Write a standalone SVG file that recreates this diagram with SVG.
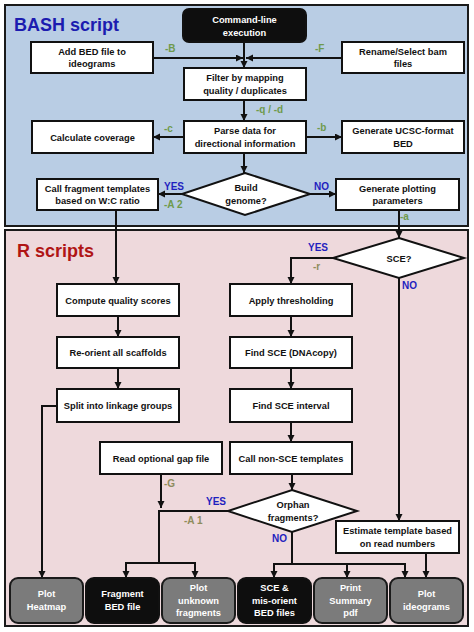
<svg xmlns="http://www.w3.org/2000/svg" width="474" height="632" viewBox="0 0 474 632">
<defs>
<marker id="ah" markerUnits="userSpaceOnUse" markerWidth="8" markerHeight="8" refX="7" refY="3.5" orient="auto">
<path d="M0,0 L7,3.5 L0,7 z" fill="#111"/>
</marker>
<style>
.box{fill:#fff;stroke:#111;stroke-width:2}
.blk{fill:#0e0e0e;stroke:#111;stroke-width:2}
.gry{fill:#7b7b7b;stroke:#1a1a1a;stroke-width:2}
text{font-family:"Liberation Sans",Arial,sans-serif;font-weight:bold}
.t{font-size:9.3px;fill:#111;text-anchor:middle}
.w{font-size:9.3px;fill:#fff;text-anchor:middle}
.yn{font-size:10px;fill:#1f1fbf}
.opt{font-size:10px;fill:#6f9a4c}
.optr{font-size:10px;fill:#8e8c5c}
.ln{fill:none;stroke:#111;stroke-width:2}
.ar{fill:none;stroke:#111;stroke-width:2;marker-end:url(#ah)}
</style>
</defs>
<rect x="0" y="0" width="474" height="632" fill="#fff"/>
<g id="bash-panel">
<rect x="5" y="5" width="463" height="221" fill="#b9cde4" stroke="#1a1a1a" stroke-width="2"/>
<text x="14" y="31" font-size="18" fill="#1c1cb0">BASH script</text>
</g>
<g id="r-panel">
<rect x="5" y="230" width="463" height="396" fill="#eed9dc" stroke="#1a1a1a" stroke-width="2"/>
<text x="17" y="257" font-size="18" fill="#b01515">R scripts</text>
</g>

<g id="connectors">
<path class="ar" d="M244,42 V68"/>
<path class="ar" d="M153,58 H243"/>
<path class="ar" d="M342,58 H246"/>
<path class="ar" d="M244,100 V121"/>
<path class="ar" d="M184,137 H153"/>
<path class="ar" d="M306,137 H342"/>
<path class="ar" d="M244,153 V173"/>
<path class="ar" d="M182,194 H158"/>
<path class="ar" d="M310,194 H336"/>
<path class="ar" d="M116,210 V284"/>
<path class="ar" d="M118,316 V337"/>
<path class="ar" d="M118,368 V389"/>
<path class="ar" d="M57,406 H42 V578"/>
<path class="ar" d="M399,210 V238"/>
<path class="ar" d="M333,258 H291 V284"/>
<path class="ar" d="M399,278 V521"/>
<path class="ar" d="M291,316 V337"/>
<path class="ar" d="M291,368 V389"/>
<path class="ar" d="M291,422 V442"/>
<path class="ar" d="M292,474 V490"/>
<path class="ar" d="M161,474 V508"/>
<path class="ln" d="M228,511 H159 V563"/>
<path class="ln" d="M125,563 H196"/>
<path class="ar" d="M126,563 V578"/>
<path class="ar" d="M195,563 V578"/>
<path class="ln" d="M292,532 V564"/>
<path class="ln" d="M273,564 H406"/>
<path class="ar" d="M274,564 V578"/>
<path class="ar" d="M347,564 V578"/>
<path class="ar" d="M405,564 V578"/>
<path class="ar" d="M426,553 V578"/>
</g>

<g id="labels">
<text class="opt" x="165" y="52">-B</text>
<text class="opt" x="315" y="52">-F</text>
<text class="opt" x="256" y="113">-q / -d</text>
<text class="opt" x="164" y="132">-c</text>
<text class="opt" x="317" y="131">-b</text>
<text class="yn" x="164" y="190">YES</text>
<text class="opt" x="164" y="208">-A 2</text>
<text class="yn" x="314" y="190">NO</text>
<text class="opt" x="400" y="220">-a</text>
<text class="yn" x="308" y="251">YES</text>
<text class="optr" x="313" y="270">-r</text>
<text class="yn" x="402" y="289">NO</text>
<text class="optr" x="164" y="487">-G</text>
<text class="yn" x="206" y="505">YES</text>
<text class="optr" x="184" y="524">-A 1</text>
<text class="yn" x="272" y="542">NO</text>
</g>

<g id="cmd">
<rect class="blk" x="183" y="9" width="123" height="33" rx="6"/>
<text class="w" x="244.5" y="23">Command-line</text>
<text class="w" x="244.5" y="35.5">execution</text>
</g>
<g id="addbed">
<rect class="box" x="31" y="42" width="122" height="31"/>
<text class="t" x="92" y="54.5">Add BED file to</text>
<text class="t" x="92" y="67">ideograms</text>
</g>
<g id="rename">
<rect class="box" x="342" y="42" width="122" height="31"/>
<text class="t" x="403" y="54.5">Rename/Select bam</text>
<text class="t" x="403" y="67">files</text>
</g>
<g id="filter">
<rect class="box" x="184" y="68" width="122" height="32"/>
<text class="t" x="245" y="81">Filter by mapping</text>
<text class="t" x="245" y="93.5">quality / duplicates</text>
</g>
<g id="coverage">
<rect class="box" x="32" y="121" width="121" height="32"/>
<text class="t" x="92.5" y="140.5">Calculate coverage</text>
</g>
<g id="parse">
<rect class="box" x="184" y="121" width="122" height="32"/>
<text class="t" x="245" y="134">Parse data for</text>
<text class="t" x="245" y="146.5">directional information</text>
</g>
<g id="ucsc">
<rect class="box" x="342" y="121" width="122" height="32"/>
<text class="t" x="403" y="134">Generate UCSC-format</text>
<text class="t" x="403" y="146.5">BED</text>
</g>
<g id="build">
<polygon class="box" points="245,173 310,194 245,215 182,194"/>
<text class="t" x="246" y="191">Build</text>
<text class="t" x="246" y="203.5">genome?</text>
</g>
<g id="callfrag">
<rect class="box" x="37" y="179" width="121" height="31"/>
<text class="t" x="97.5" y="191.5">Call fragment templates</text>
<text class="t" x="97.5" y="204">based on W:C ratio</text>
</g>
<g id="plotparams">
<rect class="box" x="336" y="179" width="123" height="31"/>
<text class="t" x="397.5" y="191.5">Generate plotting</text>
<text class="t" x="397.5" y="204">parameters</text>
</g>

<g id="sce">
<polygon class="box" points="399,238 464,258 399,278 333,258"/>
<text class="t" x="399" y="261.5">SCE?</text>
</g>
<g id="quality">
<rect class="box" x="57" y="284" width="122" height="32"/>
<text class="t" x="118" y="303.5">Compute quality scores</text>
</g>
<g id="reorient">
<rect class="box" x="57" y="337" width="122" height="31"/>
<text class="t" x="118" y="356">Re-orient all scaffolds</text>
</g>
<g id="split">
<rect class="box" x="57" y="389" width="122" height="33"/>
<text class="t" x="118" y="409">Split into linkage groups</text>
</g>
<g id="threshold">
<rect class="box" x="230" y="284" width="122" height="32"/>
<text class="t" x="291" y="303.5">Apply thresholding</text>
</g>
<g id="dnacopy">
<rect class="box" x="230" y="337" width="122" height="31"/>
<text class="t" x="291" y="356">Find SCE (DNAcopy)</text>
</g>
<g id="interval">
<rect class="box" x="230" y="389" width="122" height="33"/>
<text class="t" x="291" y="409">Find SCE interval</text>
</g>
<g id="gapfile">
<rect class="box" x="100" y="442" width="122" height="32"/>
<text class="t" x="161" y="461.5">Read optional gap file</text>
</g>
<g id="nonsce">
<rect class="box" x="230" y="442" width="122" height="32"/>
<text class="t" x="291" y="461.5">Call non-SCE templates</text>
</g>
<g id="orphan">
<polygon class="box" points="292,490 357,511 292,532 228,511"/>
<text class="t" x="293" y="508">Orphan</text>
<text class="t" x="293" y="520.5">fragments?</text>
</g>
<g id="estimate">
<rect class="box" x="336" y="521" width="123" height="32"/>
<text class="t" x="397.5" y="534">Estimate template based</text>
<text class="t" x="397.5" y="546.5">on read numbers</text>
</g>

<g id="heatmap">
<rect class="gry" x="10" y="578" width="73" height="45" rx="8"/>
<text class="w" x="46.5" y="597">Plot</text>
<text class="w" x="46.5" y="609.5">Heatmap</text>
</g>
<g id="fragbed">
<rect class="blk" x="86" y="578" width="73" height="45" rx="8"/>
<text class="w" x="122.5" y="597">Fragment</text>
<text class="w" x="122.5" y="609.5">BED file</text>
</g>
<g id="unknown">
<rect class="gry" x="162" y="578" width="73" height="45" rx="8"/>
<text class="w" x="198.5" y="591">Plot</text>
<text class="w" x="198.5" y="603.5">unknown</text>
<text class="w" x="198.5" y="616">fragments</text>
</g>
<g id="scebed">
<rect class="blk" x="238" y="578" width="73" height="45" rx="8"/>
<text class="w" x="274.5" y="591">SCE &amp;</text>
<text class="w" x="274.5" y="603.5">mis-orient</text>
<text class="w" x="274.5" y="616">BED files</text>
</g>
<g id="summary">
<rect class="gry" x="314" y="578" width="73" height="45" rx="8"/>
<text class="w" x="350.5" y="591">Print</text>
<text class="w" x="350.5" y="603.5">Summary</text>
<text class="w" x="350.5" y="616">pdf</text>
</g>
<g id="ideograms">
<rect class="gry" x="390" y="578" width="73" height="45" rx="8"/>
<text class="w" x="426.5" y="597">Plot</text>
<text class="w" x="426.5" y="609.5">ideograms</text>
</g>
</svg>
